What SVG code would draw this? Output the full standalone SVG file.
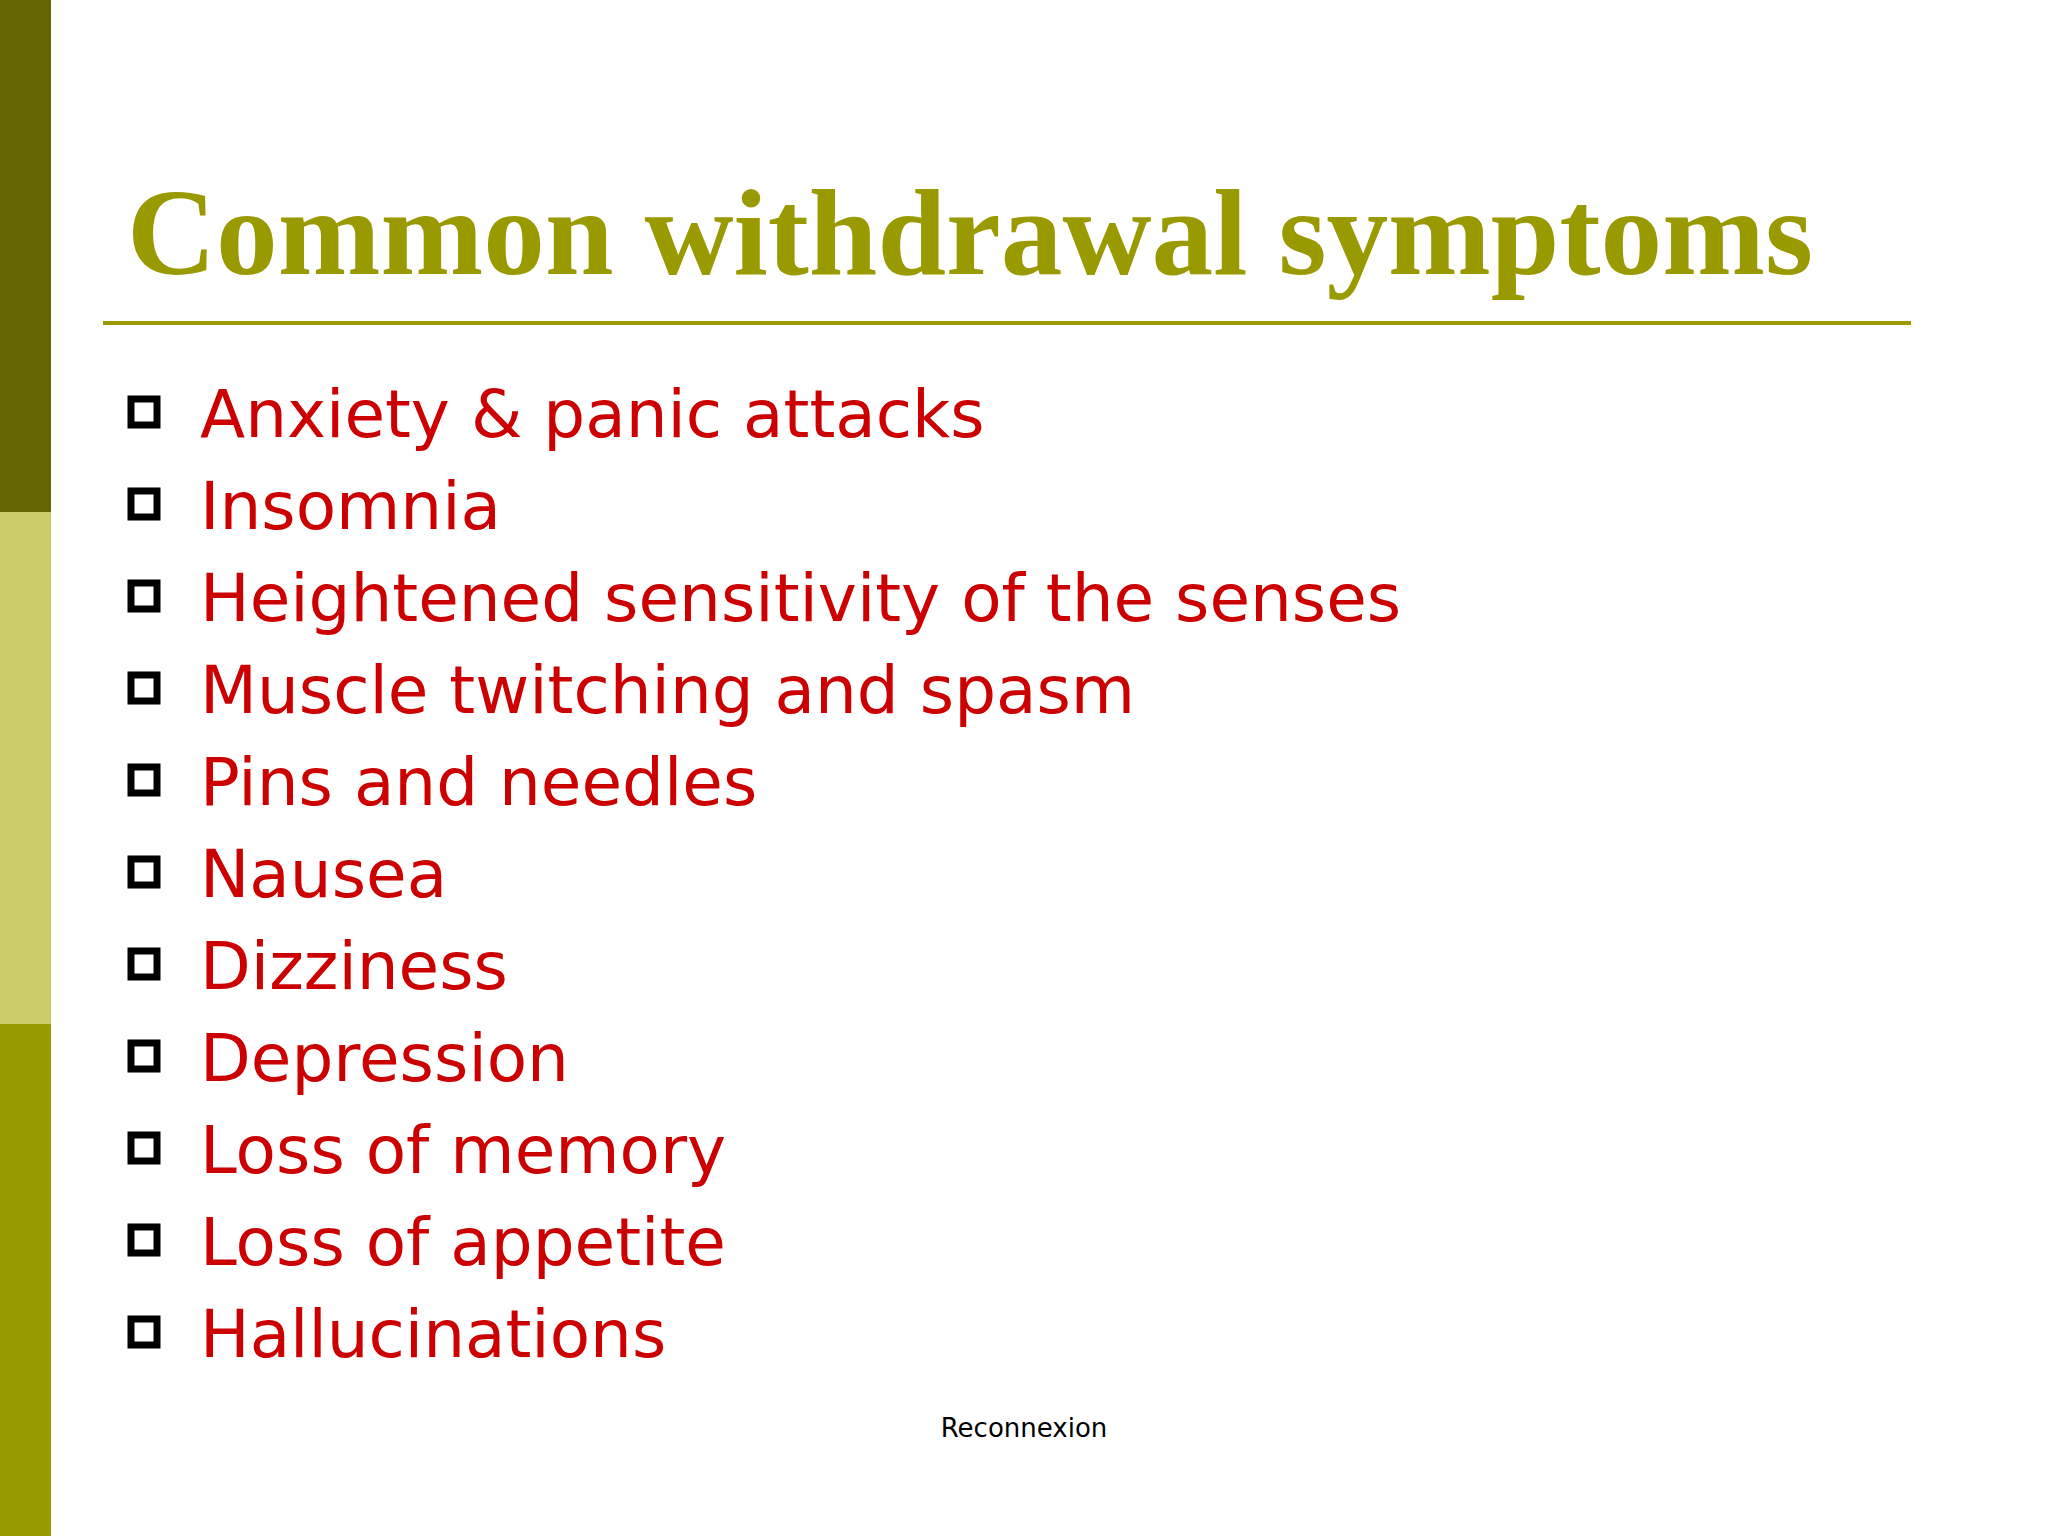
<svg xmlns="http://www.w3.org/2000/svg" width="2048" height="1536" viewBox="0 0 2048 1536">
<style>
.b{fill:none;stroke:#000;stroke-width:7}
.t{font-family:"DejaVu Sans",Verdana,sans-serif;font-size:66px;fill:#CC0000}
</style>
<rect width="2048" height="1536" fill="#fff"/>
<rect x="0" y="0" width="51" height="512" fill="#666600"/>
<rect x="0" y="512" width="51" height="512" fill="#CCCC66"/>
<rect x="0" y="1024" width="51" height="512" fill="#999900"/>
<text x="127" y="274" font-family="'Liberation Serif',serif" font-weight="bold" font-size="122" fill="#999900" textLength="1686" lengthAdjust="spacingAndGlyphs">Common withdrawal symptoms</text>
<line x1="103" y1="323" x2="1911" y2="323" stroke="#999900" stroke-width="4"/>
<g id="items">
<g id="i1"><rect class="b" x="131" y="399" width="26" height="26"/><text class="t" x="200" y="437">Anxiety &amp; panic attacks</text></g>
<g id="i2"><rect class="b" x="131" y="491" width="26" height="26"/><text class="t" x="200" y="529">Insomnia</text></g>
<g id="i3"><rect class="b" x="131" y="583" width="26" height="26"/><text class="t" x="200" y="621">Heightened sensitivity of the senses</text></g>
<g id="i4"><rect class="b" x="131" y="675" width="26" height="26"/><text class="t" x="200" y="713">Muscle twitching and spasm</text></g>
<g id="i5"><rect class="b" x="131" y="767" width="26" height="26"/><text class="t" x="200" y="805">Pins and needles</text></g>
<g id="i6"><rect class="b" x="131" y="859" width="26" height="26"/><text class="t" x="200" y="897">Nausea</text></g>
<g id="i7"><rect class="b" x="131" y="951" width="26" height="26"/><text class="t" x="200" y="989">Dizziness</text></g>
<g id="i8"><rect class="b" x="131" y="1043" width="26" height="26"/><text class="t" x="200" y="1081">Depression</text></g>
<g id="i9"><rect class="b" x="131" y="1135" width="26" height="26"/><text class="t" x="200" y="1173">Loss of memory</text></g>
<g id="i10"><rect class="b" x="131" y="1227" width="26" height="26"/><text class="t" x="200" y="1265">Loss of appetite</text></g>
<g id="i11"><rect class="b" x="131" y="1319" width="26" height="26"/><text class="t" x="200" y="1357">Hallucinations</text></g>
</g>
<text x="1024" y="1437" text-anchor="middle" font-family="'DejaVu Sans',Verdana,sans-serif" font-size="26" fill="#000">Reconnexion</text>
</svg>
